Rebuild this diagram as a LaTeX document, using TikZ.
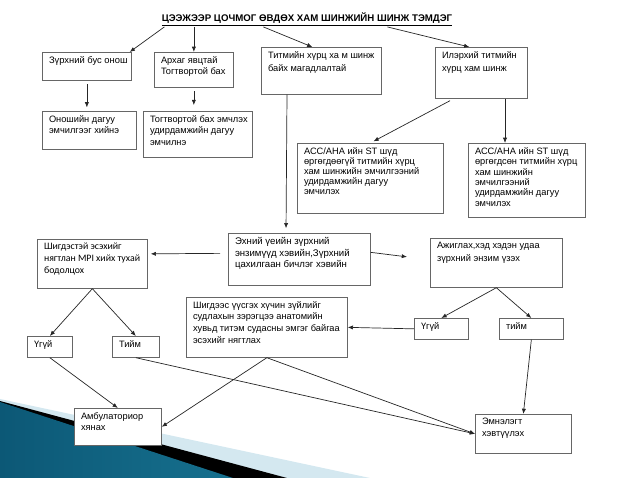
\documentclass[tikz,border=0pt]{standalone}
\usepackage{fontspec}
\setmainfont{Liberation Sans}
\newfontfamily\calib{Carlito}
\usetikzlibrary{arrows.meta, calc}

\definecolor{bandlight}{RGB}{212,232,240}
\definecolor{tealdark}{RGB}{12,88,118}
\definecolor{teallight}{RGB}{82,176,206}
\definecolor{tealmid}{RGB}{22,112,142}
\newcommand{\boxtxt}[3]{\parbox[c][\dimexpr0.03cm*#2-0.24cm\relax][t]{\dimexpr0.03cm*#1-0.2cm\relax}{\raggedright\leftskip=0.1cm #3}}

\begin{document}
\begin{tikzpicture}[x=0.03cm, y=-0.03cm,
        box/.style={draw=black!60, line width=0.6pt, fill=white, anchor=north west, inner xsep=0.1cm, inner ysep=0.12cm, font=\fontsize{7.9}{10}\selectfont},
        arr/.style={-{Latex[length=4.5pt,width=3.6pt]}, line width=0.6pt, black!85}]
        \useasboundingbox (0,0) rectangle (638,478);

        % slide corner
        \fill[bandlight] (0,399) -- (370,478) -- (0,478) -- cycle;
        \fill[black] (0,401) -- (287,478) -- (0,478) -- cycle;
        \shade[left color=tealdark, middle color=teallight, right color=tealmid] (0,402) -- (233,478) -- (0,478) -- cycle;

        \node[font=\fontsize{8.25}{10}\selectfont\bfseries, inner sep=1pt] (title) at (307,19) {\underline{ЦЭЭЖЭЭР ЦОЧМОГ ӨВДӨХ ХАМ ШИНЖИЙН ШИНЖ ТЭМДЭГ}};

        \node[box, font=\fontsize{8}{10}\selectfont] (zurh) at (42,52) {\boxtxt{89}{28}{Зүрхний бус онош}};
        \node[box] (arhag) at (154,52) {\boxtxt{79}{35}{Архаг  явцтай\\Тогтвортой бах}};
        \node[box, font=\fontsize{7.9}{11.3}\selectfont] (titm) at (261,47) {\boxtxt{120}{47}{Титмийн хүрц ха м шинж\\байх магадлалтай}};
        \node[box, font=\fontsize{7.9}{11.3}\selectfont] (ilerh) at (435,47) {\boxtxt{92}{51}{Илэрхий титмийн\\хүрц хам шинж}};
        \node[box] (onosh) at (42,111) {\boxtxt{94}{38}{Оношийн дагуу\\эмчилгээг хийнэ}};
        \node[box] (togt) at (143,111) {\boxtxt{109}{46}{Тогтвортой бах эмчлэх\\удирдамжийн  дагуу\\эмчилнэ}};
        \node[box, font=\fontsize{7.9}{8.7}\selectfont] (accno) at (297,143) {\boxtxt{146}{70}{АСС/АНА ийн  ST шүд\\өргөгдөөгүй титмийн хүрц\\хам шинжийн эмчилгээний\\удирдамжийн  дагуу\\эмчилэх}};
        \node[box, font=\fontsize{7.9}{8.9}\selectfont] (accst) at (468,143) {\boxtxt{117}{74}{АСС/АНА ийн  ST шүд\\өргөгдсөн титмийн хүрц\\хам шинжийн\\эмчилгээний\\удирдамжийн  дагуу\\эмчилэх}};
        \node[box, font=\fontsize{8.2}{10}\selectfont] (ehnii) at (228,233) {\boxtxt{142}{52}{Эхний үеийн зүрхний\\энзимүүд хэвийн,Зүрхний\\цахилгаан бичлэг хэвийн}};
        \node[box, font=\calib\fontsize{8.4}{10}\selectfont] (mpi) at (37,239) {\boxtxt{110}{49}{Шигдэстэй эсэхийг\\нягтлан MPI хийх тухай\\бодолцох}};
        \node[box, font=\fontsize{7.9}{11}\selectfont] (ajig) at (430,238) {\boxtxt{132}{49}{Ажиглах,хэд хэдэн удаа\\зүрхний энзим үзэх}};
        \node[box] (shigd) at (186,297) {\boxtxt{161}{60}{Шигдээс үүсгэх хүчин зүйлийг\\судлахын зэрэгцээ  анатомийн\\хувьд титэм судасны  эмгэг байгаа\\эсэхийг нягтлах}};
        \node[box] (uguiR) at (414,318) {\boxtxt{54}{21}{Үгүй}};
        \node[box] (tiimR) at (499,318) {\boxtxt{64}{21}{тийм}};
        \node[box] (uguiL) at (27,336) {\boxtxt{45}{21}{Үгүй}};
        \node[box] (tiimL) at (112,336) {\boxtxt{47}{21}{Тийм}};
        \node[box] (amb) at (74,408) {\boxtxt{87}{37}{Амбулаториор\\хянах}};
        \node[box] (emnel) at (475,414) {\boxtxt{96}{39}{Эмнэлэгт\\хэвтүүлэх}};

        \draw[arr] ($(title.south west)+(4,0)$) -- ($(zurh.north east)+(-2,0)$);
        \draw[arr] (title.south -| arhag.north) -- (arhag.north);
        \draw[arr] ($(title.south west)+(103,0)$) -- ($(titm.north)+(-9,0)$);
        \draw[arr] ($(title.south west)+(227,0)$) -- ($(ilerh.north)+(-12,0)$);

        \draw[arr, shorten <=3pt, shorten >=3pt] (zurh.south) -- (zurh.south |- onosh.north);
        \draw[arr, shorten <=3pt, shorten >=5pt] (arhag.south) -- (arhag.south |- togt.north);

        \draw[arr, shorten >=4pt] ($(titm.south west)+(26,0)$) -- ($(ehnii.north west)+(58,0)$);
        \draw[arr, shorten >=3pt] ($(ilerh.south west)+(15,2)$) -- (accno.north);
        \draw[arr] ($(ilerh.south west)+(70,0)$) -- ($(accst.north west)+(37,0)$);

        \draw[arr] ($(ehnii.west)+(-8,-6)$) -- ($(mpi.east)+(3,-10)$);
        \draw[arr] ($(ehnii.east)+(0,-7)$) -- ($(ajig.west)+(-23,-6)$);

        \draw[arr] (ajig.south) -- (uguiR.north);
        \draw[arr] (ajig.south) -- (tiimR.north);
        \draw[arr] (uguiR.west) -- (shigd.east);
        \draw[arr] (mpi.south) -- (uguiL.north);
        \draw[arr] (mpi.south) -- (tiimL.north);

        \draw[arr] (uguiL.south) -- (amb.north);
        \draw[arr] (tiimL.south) -- (emnel.west);
        \draw[arr] (shigd.south) -- (amb.east);
        \draw[arr] (shigd.south) -- (emnel.west);
        \draw[arr] (tiimR.south) -- (emnel.north);
\end{tikzpicture}
\end{document}
